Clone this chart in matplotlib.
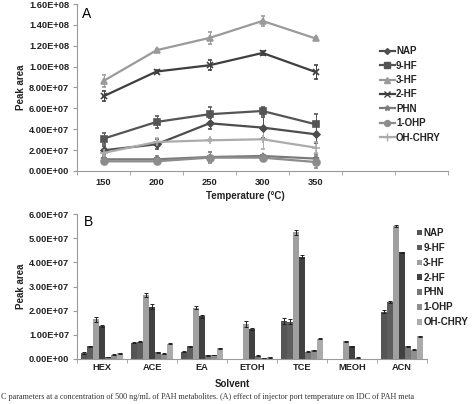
import matplotlib
matplotlib.use("Agg")
import matplotlib.pyplot as plt
from matplotlib.lines import Line2D
import numpy as np

plt.rcParams['font.family'] = ['Liberation Sans', 'DejaVu Sans']

# ---- Panel A data ----
temps = ["150", "200", "250", "300", "350"]
series_names = ["NAP", "9-HF", "3-HF", "2-HF", "PHN", "1-OHP", "OH-CHRY"]
nap = [19.8e6, 25.6e6, 45.7e6, 41.6e6, 35.2e6]
hf9 = [31.0e6, 47.0e6, 54.4e6, 57.5e6, 44.8e6]
hf3 = [86.3e6, 115.7e6, 127.5e6, 143.8e6, 127.0e6]
hf2 = [71.6e6, 95.3e6, 101.3e6, 113.1e6, 94.9e6]
phn = [11.2e6, 11.2e6, 13.4e6, 14.4e6, 11.9e6]
ohp = [9.3e6, 9.3e6, 12.8e6, 12.8e6, 8.6e6]
ohchry = [17.3e6, 27.8e6, 29.4e6, 30.4e6, 22.4e6]

nap_err = [4e6, 5e6, 5e6, 10e6, 8e6]
hf9_err = [5e6, 6e6, 7e6, 4e6, 10e6]
hf3_err = [6e6, 1e6, 6e6, 5e6, 1e6]
hf2_err = [5e6, 1e6, 5e6, 2e6, 7e6]
phn_err = [2e6, 3e6, 5e6, 1e6, 4e6]
ohp_err = [2e6, 2e6, 5e6, 1e6, 6e6]
ohchry_err = [2e6, 4e6, 1e6, 9e6, 5e6]

# ---- Panel B data ----
solvents = ["HEX", "ACE", "EA", "ETOH", "TCE", "MEOH", "ACN"]
b_nap = [2.5e6, 6.7e6, 3.1e6, 0, 15.8e6, 0, 19.5e6]
b_hf9 = [5.2e6, 7.1e6, 5.2e6, 0, 15.4e6, 0, 23.5e6]
b_hf3 = [16.5e6, 26.6e6, 21.3e6, 14.6e6, 52.4e6, 7.3e6, 55.1e6]
b_hf2 = [13.5e6, 21.7e6, 17.6e6, 12.4e6, 42.4e6, 5.2e6, 44.2e6]
b_phn = [0.8e6, 2.7e6, 1.5e6, 1.4e6, 3.1e6, 0.6e6, 5.2e6]
b_ohp = [1.8e6, 2.2e6, 1.6e6, 0.5e6, 3.7e6, 0, 3.8e6]
b_ohchry = [2.3e6, 6.3e6, 4.4e6, 0.7e6, 8.3e6, 0, 9.5e6]

b_nap_err = [0.3e6, 0.2e6, 0.2e6, 0, 1.2e6, 0, 0.6e6]
b_hf9_err = [0.2e6, 0.2e6, 0.2e6, 0, 1.0e6, 0, 0.5e6]
b_hf3_err = [1.0e6, 0.8e6, 0.6e6, 1.2e6, 0.9e6, 0.2e6, 0.5e6]
b_hf2_err = [0.4e6, 1.0e6, 0.8e6, 0.6e6, 0.5e6, 0.2e6, 0.2e6]
b_phn_err = [0.1e6, 0.2e6, 0.1e6, 0.1e6, 0.2e6, 0.1e6, 0.2e6]
b_ohp_err = [0.1e6, 0.1e6, 0.1e6, 0.1e6, 0.2e6, 0, 0.2e6]
b_ohchry_err = [0.2e6, 0.2e6, 0.2e6, 0.1e6, 0.2e6, 0, 0.2e6]

caption = ("C parameters at a concentration of 500 ng/mL of PAH metabolites. "
           "(A) effect of injector port temperature on IDC of PAH meta")

line_colors = ["#4d4d4d", "#555555", "#9a9a9a", "#3f3f3f", "#7a7a7a", "#8c8c8c", "#ababab"]
markers = ["D", "s", "^", "x", "*", "o", "+"]
msizes = [3.5, 5, 5, 5, 5, 5, 6]
bar_colors = ["#555555", "#5e5e5e", "#a0a0a0", "#414141", "#767676", "#8e8e8e", "#ababab"]

tick_col = "#222222"
spine_col = "#9a9a9a"
tfs = 6.7

fig = plt.figure(figsize=(4.74, 4.04), dpi=100)

def fmt_e(v):
    return "%.2E" % v

# ---- Panel A ----
axA = fig.add_axes([77/474, 1-171/404, 371/474, 167/404])
xs = np.arange(len(temps))
vals = [nap, hf9, hf3, hf2, phn, ohp, ohchry]
errs = [nap_err, hf9_err, hf3_err, hf2_err, phn_err, ohp_err, ohchry_err]
handles = []
for name, v, e, c, m, ms in zip(series_names, vals, errs, line_colors, markers, msizes):
    axA.errorbar(xs, v, yerr=e, color=c, marker=m, markersize=ms, linewidth=1.6,
                 elinewidth=0.7, capsize=1.5, capthick=0.7,
                 markeredgewidth=1.2)
    handles.append(Line2D([], [], color=c, marker=m, markersize=ms*0.85,
                          linewidth=1.6, markeredgewidth=1.0, label=name))
axA.set_xlim(-0.5, 6.5)
axA.set_ylim(0, 1.6e8)
yt = np.arange(0, 1.61e8, 2e7)
axA.set_yticks(yt)
axA.set_yticklabels([fmt_e(v) for v in yt])
axA.set_xticks(xs)
axA.set_xticklabels(temps)
axA.set_xticks(np.arange(-0.5, 7, 1), minor=True)
axA.tick_params(axis='x', which='major', length=0, pad=5)
axA.tick_params(axis='x', which='minor', length=3, color=spine_col, direction='out')
axA.tick_params(axis='y', length=3, color=spine_col, direction='out', pad=2.5)
axA.text(0.013, 0.985, "A", transform=axA.transAxes, fontsize=10, va='top', ha='left')
axA.set_ylabel("Peak area", fontsize=7, fontweight='bold', color=tick_col)
axA.set_xlabel("Temperature (\u00b0C)", fontsize=7, fontweight='bold', color=tick_col)
axA.xaxis.set_label_coords(0.453, -0.12)
axA.yaxis.set_label_coords(-0.138, 0.5)
legA = axA.legend(handles=handles, loc='upper left', bbox_to_anchor=(0.805, 0.77), frameon=False,
                  fontsize=7, handlelength=1.6, handletextpad=0.1, labelspacing=0.45,
                  borderaxespad=0)
for t in legA.get_texts():
    t.set_fontweight('bold'); t.set_color(tick_col)

# ---- Panel B ----
axB = fig.add_axes([77/474, 1-359/404, 350/474, 145/404])
xb = np.arange(len(solvents))
bvals = [b_nap, b_hf9, b_hf3, b_hf2, b_phn, b_ohp, b_ohchry]
berrs = [b_nap_err, b_hf9_err, b_hf3_err, b_hf2_err, b_phn_err, b_ohp_err, b_ohchry_err]
bw = 0.12
for i, (name, v, e, c) in enumerate(zip(series_names, bvals, berrs, bar_colors)):
    off = (i - 3) * bw
    axB.bar(xb + off, v, width=bw, color=c, label=name, linewidth=0,
            yerr=e, error_kw=dict(ecolor="#222222", elinewidth=0.7, capsize=1.2, capthick=0.7))
axB.set_xlim(-0.5, 6.5)
axB.set_ylim(0, 6e7)
ytb = np.arange(0, 6.01e7, 1e7)
axB.set_yticks(ytb)
axB.set_yticklabels([fmt_e(v) for v in ytb])
axB.set_xticks(xb)
axB.set_xticklabels(solvents)
axB.set_xticks(np.arange(-0.5, 7, 1), minor=True)
axB.tick_params(axis='x', which='major', length=0, pad=3)
axB.tick_params(axis='x', which='minor', length=3, color=spine_col, direction='out')
axB.tick_params(axis='y', length=3, color=spine_col, direction='out', pad=2.5)
axB.text(0.02, 0.99, "B", transform=axB.transAxes, fontsize=10, va='top', ha='left')
axB.set_ylabel("Peak area", fontsize=7, fontweight='bold', color=tick_col)
axB.set_xlabel("Solvent", fontsize=7, fontweight='bold', color=tick_col)
axB.xaxis.set_label_coords(0.443, -0.135)
axB.yaxis.set_label_coords(-0.147, 0.5)
legB = axB.legend(loc='upper left', bbox_to_anchor=(0.96, 0.93), frameon=False,
                  fontsize=7, handlelength=0.5, handleheight=0.5, handletextpad=0.15,
                  labelspacing=0.5, borderaxespad=0)
for t in legB.get_texts():
    t.set_fontweight('bold'); t.set_color(tick_col)

for ax in (axA, axB):
    for s in ('top', 'right'):
        ax.spines[s].set_visible(False)
    for s in ('left', 'bottom'):
        ax.spines[s].set_color(spine_col)
        ax.spines[s].set_linewidth(0.8)
    for lab in ax.get_xticklabels() + ax.get_yticklabels():
        lab.set_fontsize(tfs); lab.set_fontweight('bold'); lab.set_color(tick_col)

fig.text(0.002, 1-397/404, caption, fontsize=5.9, family=['Liberation Serif', 'DejaVu Serif'],
         color="#333333", va='center', ha='left')

fig.savefig("out.png", dpi=100)
